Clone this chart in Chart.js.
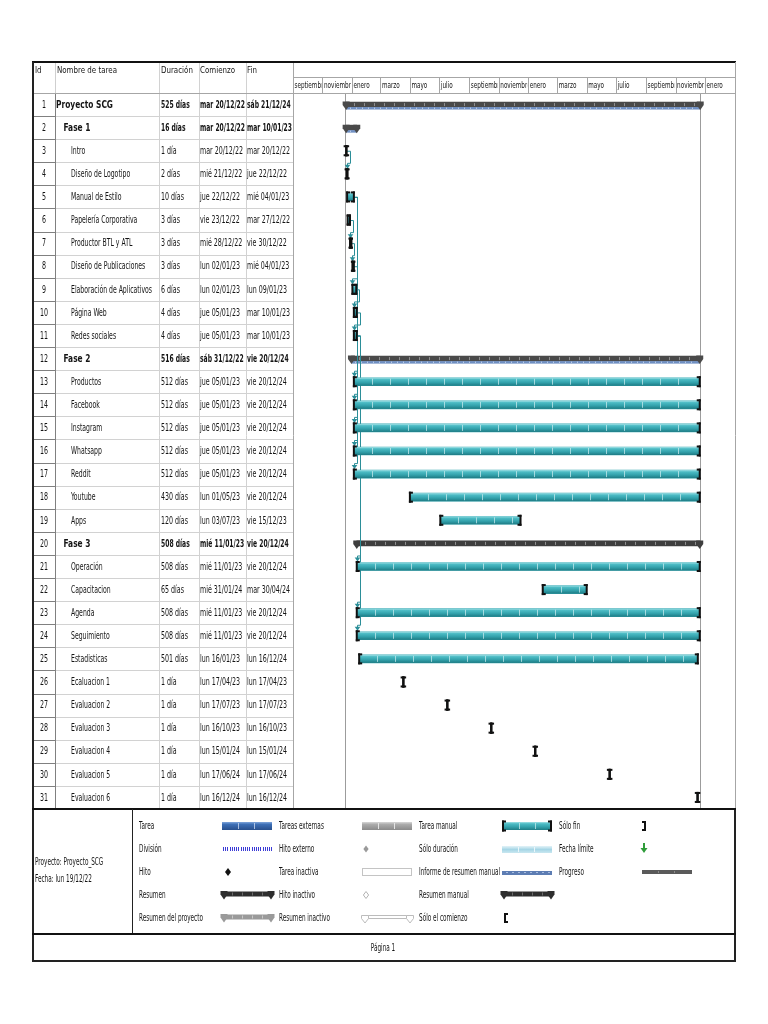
<!DOCTYPE html>
<html><head><meta charset="utf-8">
<script src="https://cdn.jsdelivr.net/npm/chart.js@4.4.1/dist/chart.umd.min.js"></script>
<style>html,body{margin:0;padding:0;background:#fff;}canvas{display:block;}</style>
</head><body>
<canvas id="c" width="768" height="1024"></canvas>
<script>
// ---------- DATA ----------
const ids = ['1','2','3','4','5','6','7','8','9','10','11','12','13','14','15','16','17','18','19','20','21','22','23','24','25','26','27','28','29','30','31'];
const taskNames = ['Proyecto SCG','Fase 1','Intro','Diseño de Logotipo','Manual de Estilo','Papelería Corporativa','Productor BTL y ATL','Diseño de Publicaciones','Elaboración de Aplicativos','Página Web','Redes sociales','Fase 2','Productos','Facebook','Instagram','Whatsapp','Reddit','Youtube','Apps','Fase 3','Operación','Capacitacion','Agenda','Seguimiento','Estadisticas','Ecaluacion 1','Evaluacion 2','Evaluacion 3','Evaluacion 4','Evaluacion 5','Evaluacion 6'];
const outlineLevels = [0,1,2,2,2,2,2,2,2,2,2,1,2,2,2,2,2,2,2,1,2,2,2,2,2,2,2,2,2,2,2];
const durations = ['525 días','16 días','1 día','2 días','10 días','3 días','3 días','3 días','6 días','4 días','4 días','516 días','512 días','512 días','512 días','512 días','512 días','430 días','120 días','508 días','508 días','65 días','508 días','508 días','501 días','1 día','1 día','1 día','1 día','1 día','1 día'];
const startDates = ['20/12/22','20/12/22','20/12/22','21/12/22','22/12/22','23/12/22','28/12/22','02/01/23','02/01/23','05/01/23','05/01/23','31/12/22','05/01/23','05/01/23','05/01/23','05/01/23','05/01/23','01/05/23','03/07/23','11/01/23','11/01/23','31/01/24','11/01/23','11/01/23','16/01/23','17/04/23','17/07/23','16/10/23','15/01/24','17/06/24','16/12/24'];
const endDates = ['21/12/24','10/01/23','20/12/22','22/12/22','04/01/23','27/12/22','30/12/22','04/01/23','09/01/23','10/01/23','10/01/23','20/12/24','20/12/24','20/12/24','20/12/24','20/12/24','20/12/24','20/12/24','15/12/23','20/12/24','20/12/24','30/04/24','20/12/24','20/12/24','16/12/24','17/04/23','17/07/23','16/10/23','15/01/24','17/06/24','16/12/24'];
const summaryRows = [1,2,12,20];
const summaryProgressRows = [1,2,12];
const links = [[3,4],[6,7],[7,8],[8,9],[9,10],[10,11],[5,13],[5,14],[5,15],[5,16],[5,17],[11,21],[11,23],[11,24]];
const monthTicks = ['01/09/22','01/11/22','01/01/23','01/03/23','01/05/23','01/07/23','01/09/23','01/11/23','01/01/24','01/03/24','01/05/24','01/07/24','01/09/24','01/11/24','01/01/25'];
const monthLabels = ['septiembre','noviembre','enero','marzo','mayo','julio','septiembre','noviembre','enero','marzo','mayo','julio','septiembre','noviembre','enero'];
const axisStart = '01/09/22';
const axisEnd = '04/03/25';
const headerLabels = ['Id','Nombre de tarea','Duración','Comienzo','Fin'];
const legendCol1 = ['Tarea','División','Hito','Resumen','Resumen del proyecto'];
const legendCol2 = ['Tareas externas','Hito externo','Tarea inactiva','Hito inactivo','Resumen inactivo'];
const legendCol3 = ['Tarea manual','Sólo duración','Informe de resumen manual','Resumen manual','Sólo el comienzo'];
const legendCol4 = ['Sólo fin','Fecha límite','Progreso'];
const projectInfo = ['Proyecto: Proyecto_SCG','Fecha: lun 19/12/22'];
const footerText = 'Página 1';

// ---------- HELPERS ----------
function dayOf(s){const p=s.split('/');return Date.UTC(2000+(+p[2]),(+p[1])-1,+p[0])/86400000;}
const WD=['dom','lun','mar','mié','jue','vie','sáb'];
function fmtDate(s){const d=new Date(dayOf(s)*86400000);return WD[d.getUTCDay()]+' '+s;}
const isSummary = ids.map((id,i)=>summaryRows.includes(i+1));
const summaryData = ids.map((id,i)=>isSummary[i]?[dayOf(startDates[i]),dayOf(endDates[i])+1]:null);
const taskData = ids.map((id,i)=>isSummary[i]?null:[dayOf(startDates[i]),dayOf(endDates[i])+1]);

const FF='"Liberation Sans Narrow","DejaVu Sans Condensed","Liberation Sans","DejaVu Sans",sans-serif';
const FS=10.5;
let F={},calibrated=false;
function calibrate(ctx){
  if(calibrated)return;calibrated=true;
  ctx.save();
  const m=(font,s)=>{ctx.font=font;return ctx.measureText(s).width;};
  F.n=Math.min(1.1,81/m(FS+'px '+FF,'Elaboración de Aplicativos'));
  F.dn=Math.min(1.1,43/m(FS+'px '+FF,'mar 20/12/22'));
  F.b=Math.min(1.1,57/m('bold '+FS+'px '+FF,'Proyecto SCG'));
  F.db=Math.min(1.1,45/m('bold '+FS+'px '+FF,'mar 20/12/22'));
  F.h=Math.min(1.1,60/m('9.5px '+FF,'Nombre de tarea'));
  F.m=Math.min(1.1,27/m('9px '+FF,'noviembr'));
  F.l=Math.min(1.1,64/m('10px '+FF,'Resumen del proyecto'));
  ctx.restore();
}
function T(ctx,str,x,y,o){
  o=o||{};const size=o.size||FS,bold=!!o.bold;
  const f=F[o.k||(bold?'b':'n')];
  ctx.save();ctx.font=(bold?'bold ':'')+size+'px '+FF;ctx.fillStyle=o.color||'#141414';
  ctx.textAlign=o.align||'left';ctx.textBaseline='middle';
  ctx.translate(x,y);ctx.scale(f,1);ctx.fillText(str,0,0);ctx.restore();
}
function hline(ctx,x1,x2,y,c,w){ctx.save();ctx.strokeStyle=c;ctx.lineWidth=w||1;ctx.beginPath();const yy=(w&&w%2===0)?Math.round(y):Math.round(y)+0.5;ctx.moveTo(x1,yy);ctx.lineTo(x2,yy);ctx.stroke();ctx.restore();}
function vline(ctx,x,y1,y2,c,w){ctx.save();ctx.strokeStyle=c;ctx.lineWidth=w||1;ctx.beginPath();const xx=(w&&w%2===0)?Math.round(x):Math.round(x)+0.5;ctx.moveTo(xx,y1);ctx.lineTo(xx,y2);ctx.stroke();ctx.restore();}
function bracketStart(ctx,x,yc,h){ctx.fillStyle='#111';ctx.fillRect(x-1,yc-h-1,2,2*h+2);ctx.fillRect(x-1,yc-h-1,4,2);ctx.fillRect(x-1,yc+h-1,4,2);}
function bracketEnd(ctx,x,yc,h){ctx.fillStyle='#111';ctx.fillRect(x-1,yc-h-1,2,2*h+2);ctx.fillRect(x-3,yc-h-1,4,2);ctx.fillRect(x-3,yc+h-1,4,2);}
function tealBar(ctx,xs,xe,yc,h,seg){
  const g=ctx.createLinearGradient(0,yc-h,0,yc+h);
  g.addColorStop(0,'#a4e2e7');g.addColorStop(0.22,'#4dbcc5');g.addColorStop(0.6,'#33a2ac');g.addColorStop(1,'#1e7b84');
  ctx.fillStyle=g;ctx.fillRect(xs,yc-h,xe-xs,2*h);
  ctx.fillStyle='rgba(200,235,238,0.75)';
  for(let x=xs+seg;x<xe-4;x+=seg)ctx.fillRect(Math.round(x),yc-h+1,1,2*h-2);
}
function summaryTri(ctx,x,yt,c){ctx.fillStyle=c;ctx.beginPath();ctx.moveTo(x-3.5,yt-0.5);ctx.lineTo(x+3.5,yt-0.5);ctx.lineTo(x+3.5,yt+3);ctx.lineTo(x,yt+8);ctx.lineTo(x-3.5,yt+3);ctx.closePath();ctx.fill();}
function summaryBar(ctx,xs,xe,yc,c,dash,blue){
  ctx.fillStyle=c;ctx.fillRect(xs,yc-2.5,xe-xs,5);
  ctx.fillStyle=dash;for(let x=xs+8;x<xe-3;x+=10)ctx.fillRect(Math.round(x),yc-1.5,1,3);
  if(blue){ctx.fillStyle='#6f8fc2';ctx.fillRect(xs,yc+2.5,xe-xs,2.5);ctx.fillStyle='#b6c8e6';for(let x=xs+4;x<xe-3;x+=6)ctx.fillRect(Math.round(x),yc+3,1,1.5);}
  summaryTri(ctx,xs,yc-2.5,c);summaryTri(ctx,xe,yc-2.5,c);
}
function diamond(ctx,x,y,r,fill,stroke){ctx.beginPath();ctx.moveTo(x,y-r);ctx.lineTo(x+r*0.75,y);ctx.lineTo(x,y+r);ctx.lineTo(x-r*0.75,y);ctx.closePath();if(fill){ctx.fillStyle=fill;ctx.fill();}if(stroke){ctx.strokeStyle=stroke;ctx.lineWidth=1;ctx.stroke();}}
function hollowTri(ctx,x,yt){ctx.beginPath();ctx.moveTo(x-3.5,yt);ctx.lineTo(x+3.5,yt);ctx.lineTo(x+3.5,yt+3);ctx.lineTo(x,yt+7.5);ctx.lineTo(x-3.5,yt+3);ctx.closePath();ctx.fillStyle='#fff';ctx.fill();ctx.strokeStyle='#bcbcbc';ctx.lineWidth=1;ctx.stroke();}

// ---------- PLUGIN ----------
const ganttPlugin={
  id:'gantt',
  beforeDraw(chart){const c=chart.ctx;c.save();c.fillStyle='#fff';c.fillRect(0,0,chart.width,chart.height);c.restore();},
  beforeDatasetsDraw(chart){
    const c=chart.ctx,xs=chart.scales.x,a=chart.chartArea;
    const p0=xs.getPixelForValue(dayOf(startDates[0])),p1=xs.getPixelForValue(dayOf(endDates[0])+1);
    vline(c,p0-1,a.top,a.bottom,'#9c9c9c');vline(c,p1,a.top,a.bottom,'#9c9c9c');
  },
  afterDatasetsDraw(chart){
    const c=chart.ctx;
    const mS=chart.getDatasetMeta(0),mT=chart.getDatasetMeta(1);
    c.save();
    mS.data.forEach((el,i)=>{
      if(!summaryData[i])return;
      const p=el.getProps(['x','y','base'],true);
      const row=i+1;
      summaryBar(c,Math.min(p.base,p.x),Math.max(p.base,p.x),p.y,row===20?'#3e3e3e':'#4a4a4a','#8e8e8e',summaryProgressRows.includes(row));
    });
    c.strokeStyle='#2b8e98';c.fillStyle='#2b8e98';c.lineWidth=1;
    links.forEach(([a,b])=>{
      const A=mT.data[a-1].getProps(['x','y','base'],true),B=mT.data[b-1].getProps(['x','y','base'],true);
      const xe=A.x,ya=A.y,xb=B.base,yb=B.y;
      const yTip=yb-5;
      c.beginPath();
      if(xb>=xe+3){c.moveTo(xe,ya+0.5);c.lineTo(Math.round(xb)+0.5,ya+0.5);c.lineTo(Math.round(xb)+0.5,yTip-3);}
      else{const x1=Math.round(xe+3)+0.5;c.moveTo(xe,ya+0.5);c.lineTo(x1,ya+0.5);c.lineTo(x1,yb-10.5);c.lineTo(Math.round(xb)+0.5,yb-10.5);c.lineTo(Math.round(xb)+0.5,yTip-3);}
      c.stroke();
      const ax=Math.round(xb)+0.5;
      c.beginPath();c.moveTo(ax-2.8,yTip-4);c.lineTo(ax+2.8,yTip-4);c.lineTo(ax,yTip);c.closePath();c.fill();
    });
    mT.data.forEach((el,i)=>{
      if(!taskData[i])return;
      const p=el.getProps(['x','y','base','height'],true);
      const a=Math.min(p.base,p.x),b=Math.max(p.base,p.x),h=p.height/2;
      if(b-a>2)tealBar(c,a,b,p.y,h,18);
      bracketStart(c,a,p.y,h+0.5);bracketEnd(c,b,p.y,h+0.5);
    });
    c.restore();
  },
  afterDraw(chart){
    const c=chart.ctx,a=chart.chartArea,xs=chart.scales.x,ys=chart.scales.y;
    calibrate(c);
    const L=33,R=735,TOP=62,TIER=77,HB=a.top,TB=a.bottom,LB=934,FB=961;
    const cols=[33,55,159,199,246,293];
    const pitch=(a.bottom-a.top)/ids.length;
    for(let i=1;i<ids.length;i++){
      const y=a.top+i*pitch;
      hline(c,cols[0],cols[1],y,'#808080');hline(c,cols[1],cols[5],y,'#d2d2d2');
    }
    vline(c,cols[1],TOP,HB,'#cfcfcf');vline(c,cols[1],HB,TB,'#808080');
    [cols[2],cols[3],cols[4]].forEach(x=>vline(c,x,TOP,TB,'#d2d2d2'));
    vline(c,cols[5],TOP,TB,'#a6a6a6');
    hline(c,L,R,HB,'#a6a6a6');
    hline(c,cols[5],R,TIER,'#a6a6a6');
    const tickPx=monthTicks.map(t=>xs.getPixelForValue(dayOf(t)));
    tickPx.forEach((x,k)=>{
      if(k>0)vline(c,x,TIER,HB,'#a6a6a6');
      const x1=k<tickPx.length-1?tickPx[k+1]:a.right;
      c.save();c.beginPath();c.rect(x+1,TIER+1,x1-x-2,HB-TIER-1);c.clip();
      T(c,monthLabels[k],x+1.5,(TIER+HB)/2+1,{size:9,k:'m'});
      c.restore();
    });
    const hx=[35,57,161,200,247];
    headerLabels.forEach((t,k)=>T(c,t,hx[k],70.5,{size:9.5,k:'h'}));
    ids.forEach((id,i)=>{
      const y=ys.getPixelForValue(i)+0.5,b=isSummary[i];
      T(c,id,44,y,{align:'center',k:'dn'});
      T(c,taskNames[i],56+outlineLevels[i]*7.5,y,{bold:b});
      T(c,durations[i],161,y,{bold:b,k:b?'db':'dn'});
      T(c,fmtDate(startDates[i]),200,y,{bold:b,k:b?'db':'dn'});
      T(c,fmtDate(endDates[i]),247,y,{bold:b,k:b?'db':'dn'});
    });
    hline(c,L-1,R+1,TOP,'#111',2);
    vline(c,L,TOP,FB,'#222',2);
    vline(c,R,TOP,TB,'#a6a6a6');
    vline(c,R,TB,FB,'#222',2);
    hline(c,L-1,R+1,TB,'#111',2);
    vline(c,132,TB,LB,'#222');
    hline(c,L-1,R+1,LB,'#111',2);
    hline(c,L-1,R+1,FB,'#222',2);
    const ly=[826,849,872,895,918];
    const lo={size:10,k:'l'};
    legendCol1.forEach((t,k)=>T(c,t,139,ly[k],lo));
    legendCol2.forEach((t,k)=>T(c,t,279,ly[k],lo));
    legendCol3.forEach((t,k)=>T(c,t,419,ly[k],lo));
    legendCol4.forEach((t,k)=>T(c,t,559,ly[k],lo));
    T(c,projectInfo[0],35,862,lo);T(c,projectInfo[1],35,879,lo);
    T(c,footerText,383,948,{size:10,k:'l',align:'center'});
    c.save();
    {const g=c.createLinearGradient(0,822,0,830);g.addColorStop(0,'#7fa6dc');g.addColorStop(0.3,'#3d6fb6');g.addColorStop(1,'#284f8c');c.fillStyle=g;c.fillRect(222,822,50,8);c.fillStyle='rgba(200,215,240,0.8)';[238,254].forEach(x=>c.fillRect(x,823,1,6));}
    c.fillStyle='#3b3bd6';for(let x=223;x<272;x+=2.2)c.fillRect(Math.round(x),847,1,4);
    diamond(c,228,872,4,'#111');
    summaryBar(c,224,271,894,'#2e2e2e','#6a6a6a',false);
    summaryBar(c,224,271,917,'#9a9a9a','#c8c8c8',false);
    {const g=c.createLinearGradient(0,822,0,830);g.addColorStop(0,'#d8d8d8');g.addColorStop(0.3,'#ababab');g.addColorStop(1,'#8a8a8a');c.fillStyle=g;c.fillRect(362,822,50,8);c.fillStyle='#e4e4e4';[378,394].forEach(x=>c.fillRect(x,823,1,6));}
    diamond(c,366,849,3.5,'#9a9a9a');
    c.fillStyle='#fff';c.fillRect(362,868,50,8);c.strokeStyle='#c4c4c4';c.lineWidth=1;c.strokeRect(362.5,868.5,49,7);
    diamond(c,366,895,3.5,'#fff','#b4b4b4');
    c.strokeStyle='#bcbcbc';c.lineWidth=1;c.strokeRect(364.5,915.5,46,3);hollowTri(c,365,915.5);hollowTri(c,410,915.5);
    tealBar(c,503,551,826,4,16);bracketStart(c,503,826,4.5);bracketEnd(c,551,826,4.5);
    {const g=c.createLinearGradient(0,846,0,853);g.addColorStop(0,'#e3f3f8');g.addColorStop(0.5,'#a6d6e6');g.addColorStop(1,'#c9e7f0');c.fillStyle=g;c.fillRect(502,846,50,7);c.fillStyle='#eaf6fa';[518,534].forEach(x=>c.fillRect(x,847,1,5));}
    c.fillStyle='#5d7db3';c.fillRect(502,871,50,4);c.fillStyle='#a8bde0';for(let x=506;x<551;x+=6)c.fillRect(x,872,2,1);
    summaryBar(c,504,551,894,'#2e2e2e','#6a6a6a',false);
    bracketStart(c,505,918,4);
    bracketEnd(c,645,826,4);
    c.fillStyle='#2f9c3a';c.fillRect(643,843,2,6);c.beginPath();c.moveTo(640.5,848);c.lineTo(647.5,848);c.lineTo(644,853);c.closePath();c.fill();
    c.fillStyle='#5a5a5a';c.fillRect(642,870,50,4);c.fillStyle='#8a8a8a';[658,674].forEach(x=>c.fillRect(x,871,1,2));
    c.restore();
  }
};

new Chart(document.getElementById('c').getContext('2d'),{
  type:'bar',
  data:{labels:ids,datasets:[
    {label:'Resumen',data:summaryData,backgroundColor:'#4a4a4a',barThickness:5,grouped:false,borderWidth:0},
    {label:'Tarea manual',data:taskData,backgroundColor:'#37a6b0',barThickness:8,grouped:false,borderWidth:0}
  ]},
  options:{
    indexAxis:'y',responsive:false,animation:false,events:[],
    layout:{padding:{left:293,right:33,top:93,bottom:215}},
    scales:{
      x:{type:'linear',display:false,min:dayOf(axisStart),max:dayOf(axisEnd)},
      y:{type:'category',display:false,offset:true}
    },
    plugins:{legend:{display:false},tooltip:{enabled:false}}
  },
  plugins:[ganttPlugin]
});
</script>
</body></html>
